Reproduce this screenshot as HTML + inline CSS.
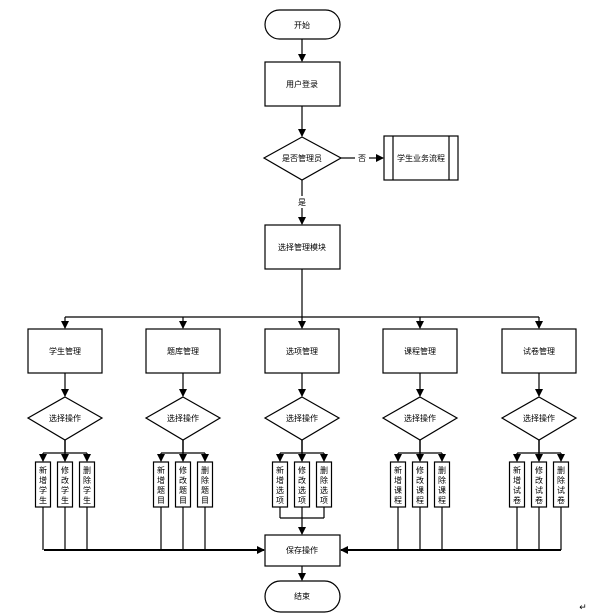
<!DOCTYPE html>
<html><head><meta charset="utf-8"><style>
html,body{margin:0;padding:0;background:#fff;}
svg{display:block;font-family:"Liberation Sans","Noto Sans CJK SC",sans-serif;}
</style></head><body>
<svg width="612" height="615" viewBox="0 0 612 615" xmlns="http://www.w3.org/2000/svg">
<defs><marker id="a" markerWidth="8" markerHeight="8" refX="7" refY="4" orient="auto" markerUnits="userSpaceOnUse"><path d="M0,0 L8,4 L0,8 z" fill="#000"/></marker></defs>
<g stroke="#000" stroke-width="1.2" fill="#fff">
<rect x="265" y="10" width="75" height="29" rx="14.5"/>
<rect x="265" y="62" width="75" height="44"/>
<polygon points="302,137 341,158 302,180 264,158"/>
<rect x="384" y="136" width="74" height="44"/>
<line x1="393" y1="136" x2="393" y2="180"/><line x1="449" y1="136" x2="449" y2="180"/>
<rect x="265" y="225" width="75" height="44"/>
<rect x="265" y="535" width="75" height="31"/>
<rect x="265" y="581" width="75" height="31" rx="15.5"/>
</g>
<g stroke="#000" stroke-width="1.2" fill="none">
<line x1="302" y1="39" x2="302" y2="61" marker-end="url(#a)"/>
<line x1="302" y1="106" x2="302" y2="136" marker-end="url(#a)"/>
<line x1="341" y1="158" x2="355" y2="158"/>
<line x1="369" y1="158" x2="383" y2="158" marker-end="url(#a)"/>
<line x1="302" y1="180" x2="302" y2="196"/>
<line x1="302" y1="208" x2="302" y2="224" marker-end="url(#a)"/>
<line x1="302" y1="269" x2="302" y2="317"/>
<line x1="65" y1="317" x2="539" y2="317"/>
<line x1="44" y1="550" x2="264" y2="550" stroke-width="2" marker-end="url(#a)"/>
<line x1="561" y1="550" x2="341" y2="550" stroke-width="2" marker-end="url(#a)"/>
<line x1="280" y1="518" x2="324" y2="518"/>
<line x1="302" y1="518" x2="302" y2="534" marker-end="url(#a)"/>
<line x1="302" y1="566" x2="302" y2="580" marker-end="url(#a)"/>
</g>
<g font-size="8" fill="#000" text-anchor="middle">
<text x="302" y="28">开始</text>
<text x="302" y="87">用户登录</text>
<text x="302" y="161">是否管理员</text>
<text x="362" y="161">否</text>
<text x="421" y="161">学生业务流程</text>
<text x="302" y="205">是</text>
<text x="302" y="250">选择管理模块</text>
<text x="302" y="553">保存操作</text>
<text x="302" y="599">结束</text>
<text x="583" y="610" font-size="9">↵</text>
</g>
<g id="groups"></g>
</svg>
<script>
var g=document.getElementById('groups');
var cs=[65,183,302,420,539];
var names=['学生管理','题库管理','选项管理','课程管理','试卷管理'];
var obj=['学生','题目','选项','课程','试卷'];
var ops=['新增','修改','删除'];
var h='';
cs.forEach(function(c,i){
 h+='<line x1="'+c+'" y1="317" x2="'+c+'" y2="328" stroke="#000" stroke-width="1.2" marker-end="url(#a)"/>';
 h+='<rect x="'+(c-37)+'" y="329" width="74" height="44" fill="#fff" stroke="#000" stroke-width="1.2"/>';
 h+='<text x="'+c+'" y="354" font-size="8" text-anchor="middle">'+names[i]+'</text>';
 h+='<line x1="'+c+'" y1="373" x2="'+c+'" y2="396" stroke="#000" stroke-width="1.2" marker-end="url(#a)"/>';
 h+='<polygon points="'+c+',397 '+(c+37)+',418 '+c+',440 '+(c-37)+',418" fill="#fff" stroke="#000" stroke-width="1.2"/>';
 h+='<text x="'+c+'" y="421" font-size="8" text-anchor="middle">选择操作</text>';
 h+='<line x1="'+c+'" y1="440" x2="'+c+'" y2="453" stroke="#000" stroke-width="1.5"/>';
 h+='<line x1="'+(c-22)+'" y1="453" x2="'+(c+22)+'" y2="453" stroke="#000" stroke-width="1.2"/>';
 [-22,0,22].forEach(function(o,j){
  var x=c+o;
  h+='<line x1="'+x+'" y1="453" x2="'+x+'" y2="461" stroke="#000" stroke-width="1.2" marker-end="url(#a)"/>';
  h+='<rect x="'+(x-7.5)+'" y="462" width="15" height="45" fill="#fff" stroke="#000" stroke-width="1.2"/>';
  var t=ops[j]+obj[i];
  for(var k=0;k<4;k++) h+='<text x="'+x+'" y="'+(473+k*10)+'" font-size="8" text-anchor="middle">'+t[k]+'</text>';
  var y2=(i==2)?518:550;
  h+='<line x1="'+x+'" y1="507" x2="'+x+'" y2="'+y2+'" stroke="#000" stroke-width="1.2"/>';
 });
});
g.innerHTML=h;
</script>
</body></html>
